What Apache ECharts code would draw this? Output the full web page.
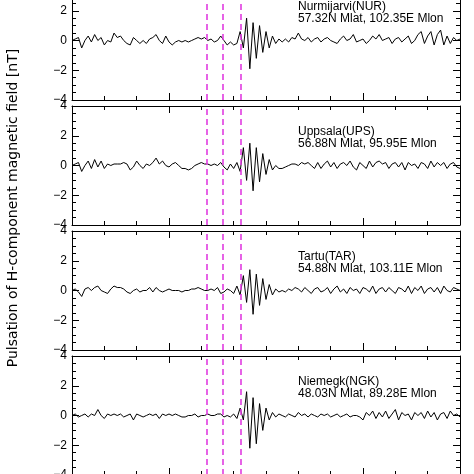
<!DOCTYPE html>
<html>
<head>
<meta charset="utf-8">
<script src="https://cdn.jsdelivr.net/npm/echarts@6/dist/echarts.min.js"></script>
<style>html,body{margin:0;padding:0;background:#fff}#c{width:474px;height:474px}</style>
</head>
<body>
<div id="c"></div>
<script>
// Station names and magnetic coordinates
var stations = ['Nurmijarvi(NUR)', 'Uppsala(UPS)', 'Tartu(TAR)', 'Niemegk(NGK)'];
var coords = ['57.32N Mlat, 102.35E Mlon', '56.88N Mlat, 95.95E Mlon', '54.88N Mlat, 103.11E Mlon', '48.03N Mlat, 89.28E Mlon'];
// Vertical dashed markers (sample index)
var markers = [41.8, 46.7, 52.3];
var yTicks = [-4, -2, 0, 2, 4];
var yTitle = 'Pulsation of H-component magnetic field [nT]';

// H-component pulsation [nT], one value per sample index 0..120
var nur = [0.0,0.1,0.2,-0.5,0.0,0.3,-0.1,0.4,0.0,0.2,
  -0.3,0.0,-0.1,0.5,0.2,0.3,0.0,-0.2,-0.3,0.2,
  0.0,-0.2,0.0,-0.2,0.1,0.2,0.4,0.0,-0.2,0.3,
  -0.1,-0.3,-0.1,0.0,-0.1,0.0,-0.1,0.0,0.1,0.2,
  0.1,0.2,0.0,0.1,-0.1,0.0,0.3,0.0,-0.3,-0.1,
  -0.3,-0.2,0.6,-0.5,1.5,-1.9,1.2,-1.2,1.0,-0.8,
  0.6,-0.5,0.3,-0.2,0.1,-0.1,0.1,-0.1,0.2,0.1,
  0.5,0.1,0.0,0.2,-0.1,0.1,0.2,-0.1,0.1,0.2,
  0.0,-0.1,-0.2,0.1,0.3,0.0,0.1,0.4,-0.1,0.0,
  0.1,-0.2,0.0,0.3,0.1,0.4,0.0,0.1,0.2,-0.2,
  0.1,0.2,-0.1,0.1,0.3,-0.2,0.0,0.4,0.6,-0.2,
  0.3,0.6,-0.3,0.4,0.7,-0.3,0.3,-0.2,0.2,0.0,
  0.1];
var ups = [0.0,0.1,0.2,-0.4,0.0,0.3,-0.2,0.4,-0.1,0.3,
  -0.2,0.1,0.0,0.1,0.1,0.1,0.2,0.1,-0.3,-0.1,
  0.3,0.0,-0.2,0.1,0.0,0.2,0.5,0.1,0.3,0.0,
  -0.1,0.1,0.2,0.0,-0.2,-0.2,-0.3,-0.2,0.0,0.1,
  0.2,0.1,0.1,0.0,0.1,0.0,0.2,-0.1,-0.3,0.1,
  -0.2,0.2,-0.4,1.2,-1.0,1.5,-1.7,1.2,-1.1,0.8,
  -0.6,0.4,-0.3,0.0,-0.2,-0.2,-0.1,0.0,0.1,0.1,
  0.0,0.2,0.1,0.2,0.0,-0.2,0.2,-0.2,0.1,0.3,
  -0.1,0.2,-0.2,0.1,0.2,0.0,0.3,-0.1,-0.3,0.2,
  0.0,-0.2,0.3,-0.1,0.2,0.3,0.1,0.2,-0.2,0.1,
  0.2,-0.1,0.2,-0.3,0.2,0.0,0.1,-0.2,0.2,0.1,
  -0.2,0.3,-0.1,0.2,0.0,0.2,-0.2,0.1,0.2,-0.1,
  -0.2];
var tar = [0.0,0.1,-0.1,-0.4,0.1,0.2,0.0,0.2,0.3,0.0,
  -0.1,-0.2,0.1,0.3,0.2,0.2,0.1,-0.1,-0.2,0.0,
  0.1,-0.1,0.0,0.0,0.2,-0.1,0.2,0.0,-0.1,0.0,
  0.1,0.0,0.0,0.0,-0.1,0.0,0.0,0.1,0.1,0.2,
  0.1,0.0,0.0,0.1,0.0,0.2,-0.2,-0.1,0.1,0.0,
  -0.2,0.3,-0.3,1.0,-0.8,1.4,-1.6,1.1,-1.0,0.8,
  -0.6,0.4,-0.3,0.1,-0.1,0.0,-0.1,0.1,0.0,0.2,
  0.1,-0.1,0.2,0.0,-0.2,0.1,0.2,-0.1,0.0,0.2,
  -0.2,0.1,0.3,-0.1,0.1,-0.2,0.2,0.0,0.1,-0.2,
  0.2,0.1,-0.1,0.3,-0.2,0.1,0.2,-0.1,0.2,0.0,
  -0.2,0.2,0.1,-0.1,0.3,-0.2,0.2,0.0,0.3,-0.2,
  0.1,0.2,-0.1,0.2,-0.2,0.3,0.0,-0.1,0.2,0.1,
  0.0];
var ngk = [0.0,0.1,-0.1,0.0,0.1,-0.1,0.1,0.0,0.4,0.0,
  -0.2,0.1,0.0,0.1,0.0,0.1,-0.1,0.0,0.1,-0.3,
  0.1,0.0,-0.1,0.0,0.1,0.0,0.1,-0.2,0.1,0.0,
  0.1,0.0,0.1,0.0,-0.1,-0.1,0.0,0.0,0.1,-0.1,
  0.0,0.0,0.1,0.0,0.0,0.1,0.1,-0.1,0.0,-0.1,
  0.1,-0.2,0.5,-0.3,1.6,-2.2,1.2,-1.9,0.8,-1.0,
  0.5,-0.3,0.2,-0.1,0.1,0.0,-0.1,0.1,0.0,-0.1,
  0.2,0.0,0.1,-0.1,0.1,0.0,-0.1,0.1,0.0,0.1,
  -0.1,0.0,0.1,-0.1,0.0,0.1,-0.1,0.0,0.0,-0.1,
  -0.3,0.2,0.0,0.3,-0.2,0.2,-0.1,0.3,-0.2,0.1,
  0.4,-0.3,0.2,0.0,0.1,-0.3,0.2,0.0,0.2,-0.2,
  0.3,-0.1,0.2,-0.3,0.1,0.2,-0.2,0.3,0.0,0.1,
  -0.1];
var seriesData = [nur, ups, tar, ngk];

var gridTops = [-19, 106, 231, 356];
var gridH = 119;
var FONT = 'Liberation Sans';

var grids = [], xAxes = [], yAxes = [], series = [], graphics = [];
function minus(v){ return String(v).replace('-', '\u2212'); }
gridTops.forEach(function(top, k){
  grids.push({left: 72, width: 388, top: top, height: gridH, outerBoundsMode: 'none', containLabel: false});
  var baseX = {gridIndex: k, type: 'value', min: 0, max: 120, interval: 10,
    axisLabel: {show: false}, splitLine: {show: false},
    axisLine: {show: true, onZero: false, lineStyle: {color: '#000', width: 1}},
    axisTick: {show: true, inside: true, length: 4, lineStyle: {color: '#000', width: 1}}};
  xAxes.push(Object.assign({}, baseX, {position: 'bottom'}));
  xAxes.push(Object.assign({}, baseX, {position: 'top'}));
  var longX = {gridIndex: k, type: 'value', min: 0, max: 120,
    axisLabel: {show: false}, splitLine: {show: false}, axisLine: {show: false, onZero: false},
    axisTick: {show: true, inside: true, length: 7, customValues: [30, 90], lineStyle: {color: '#000', width: 1}}};
  xAxes.push(Object.assign({}, longX, {position: 'bottom'}));
  xAxes.push(Object.assign({}, longX, {position: 'top'}));
  var baseY = {gridIndex: k, type: 'value', min: -4, max: 4, interval: 2,
    splitLine: {show: false}, minorSplitLine: {show: false},
    axisLine: {show: true, onZero: false, lineStyle: {color: '#000', width: 1}},
    axisTick: {show: true, inside: true, length: 7, lineStyle: {color: '#000', width: 1}},
    minorTick: {show: true, splitNumber: 4, length: 4, lineStyle: {color: '#000', width: 1}}};
  yAxes.push(Object.assign({}, baseY, {position: 'left',
    axisLabel: {show: true, color: '#000', fontFamily: FONT, fontSize: 12, margin: 5,
      showMinLabel: true, showMaxLabel: true, formatter: function(v){ return minus(v); }}}));
  yAxes.push(Object.assign({}, baseY, {position: 'right', axisLabel: {show: false}}));
  var vals = seriesData[k];
  series.push({type: 'line', xAxisIndex: 4 * k, yAxisIndex: 2 * k,
    data: vals.map(function(v, i){ return [i, v]; }),
    showSymbol: false, symbol: 'none', lineStyle: {color: '#000', width: 1}, z: 3,
    markLine: {silent: true, symbol: 'none', label: {show: false}, animation: false,
      lineStyle: {color: '#e03ce0', type: [6, 4], width: 1.6},
      data: markers.map(function(m){ return {xAxis: m}; })}});
  graphics.push({type: 'text', left: 298, top: top + 20, z: 10,
    style: {text: stations[k] + '\n' + coords[k], fill: '#000', font: '12px ' + FONT, lineHeight: 12}});
});
graphics.push({type: 'text', x: 13, y: 208, rotation: Math.PI / 2,
  style: {text: yTitle, fill: '#000', font: '14px "DejaVu Sans"', align: 'center', verticalAlign: 'middle'}});

var chart = echarts.init(document.getElementById('c'), null, {renderer: 'canvas'});
chart.setOption({animation: false, backgroundColor: '#fff',
  grid: grids, xAxis: xAxes, yAxis: yAxes, series: series, graphic: graphics});
</script>
</body>
</html>
